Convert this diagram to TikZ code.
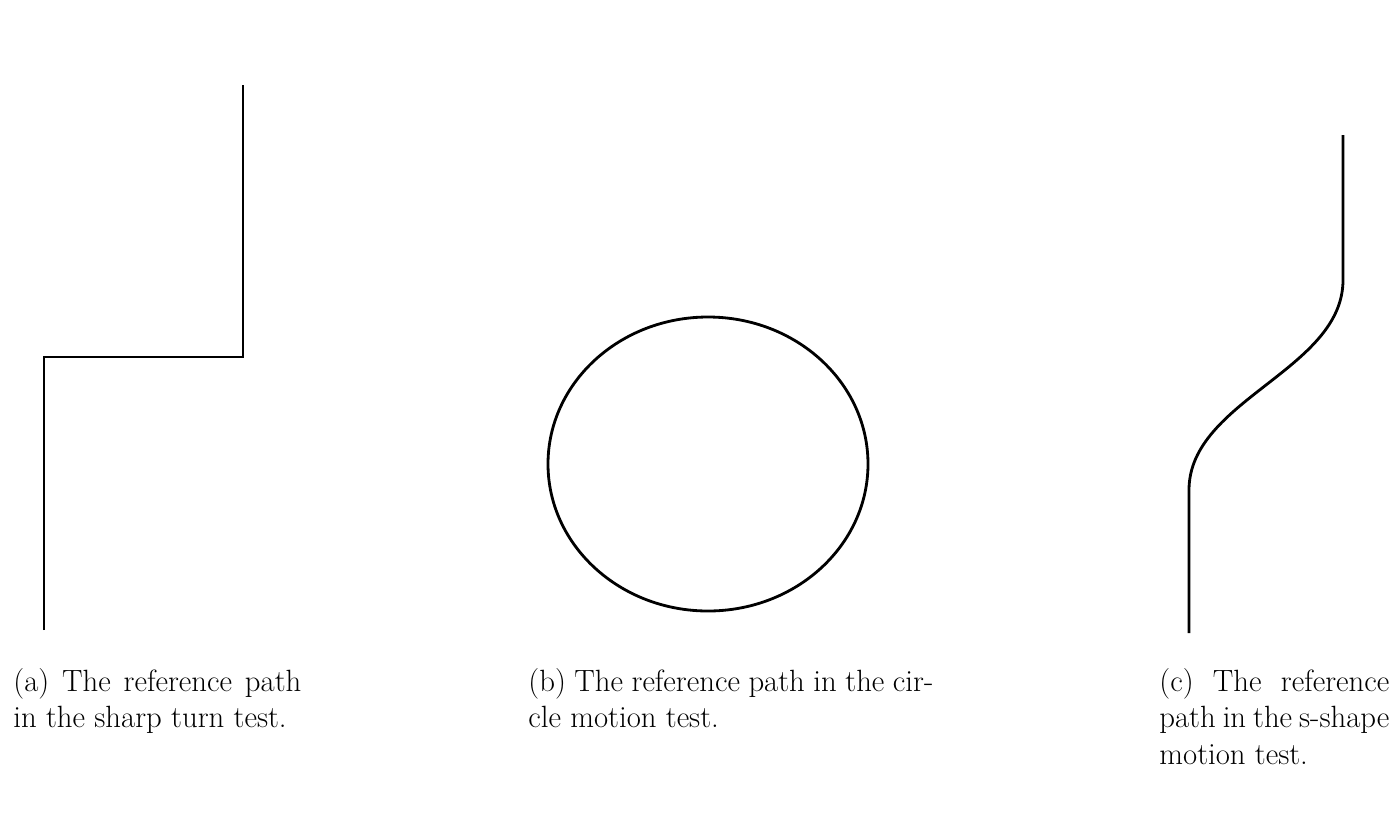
\documentclass[tikz,border=0pt]{standalone}
\begin{document}
\begin{tikzpicture}[x=0.02cm,y=-0.02cm,line width=1.6pt,
  captext/.style={anchor=north west,inner sep=0pt,align=justify,font=\fontsize{17.5}{20.8}\selectfont}]
\useasboundingbox (0,0) rectangle (1390,826);
\coordinate (a0) at (44,630);
\coordinate (a1) at (44,357);
\coordinate (a2) at (243,357);
\coordinate (a3) at (243,85);
\draw (a0) -- (a1) -- (a2) -- (a3);
\coordinate (circ) at (708,464);
\draw (circ) ellipse [x radius=160, y radius=147];
\coordinate (c0) at (1189,633);
\coordinate (c1) at (1189,490);
\coordinate (c2) at (1343,280);
\coordinate (c3) at (1343,135);
\draw (c0) -- (c1) .. controls (1189,400) and (1343,370) .. (c2) -- (c3);
\node[captext,text width=5.76cm] (ta) at (12,667) {(a) The reference path in the sharp turn test.};
\node[captext,text width=8.1cm] (tb) at (527,667) {(b) The reference path in the circle motion test.};
\node[captext,text width=4.6cm] (tc) at (1158,667) {(c) The reference path in the s-shape motion test.};
\end{tikzpicture}
\end{document}
